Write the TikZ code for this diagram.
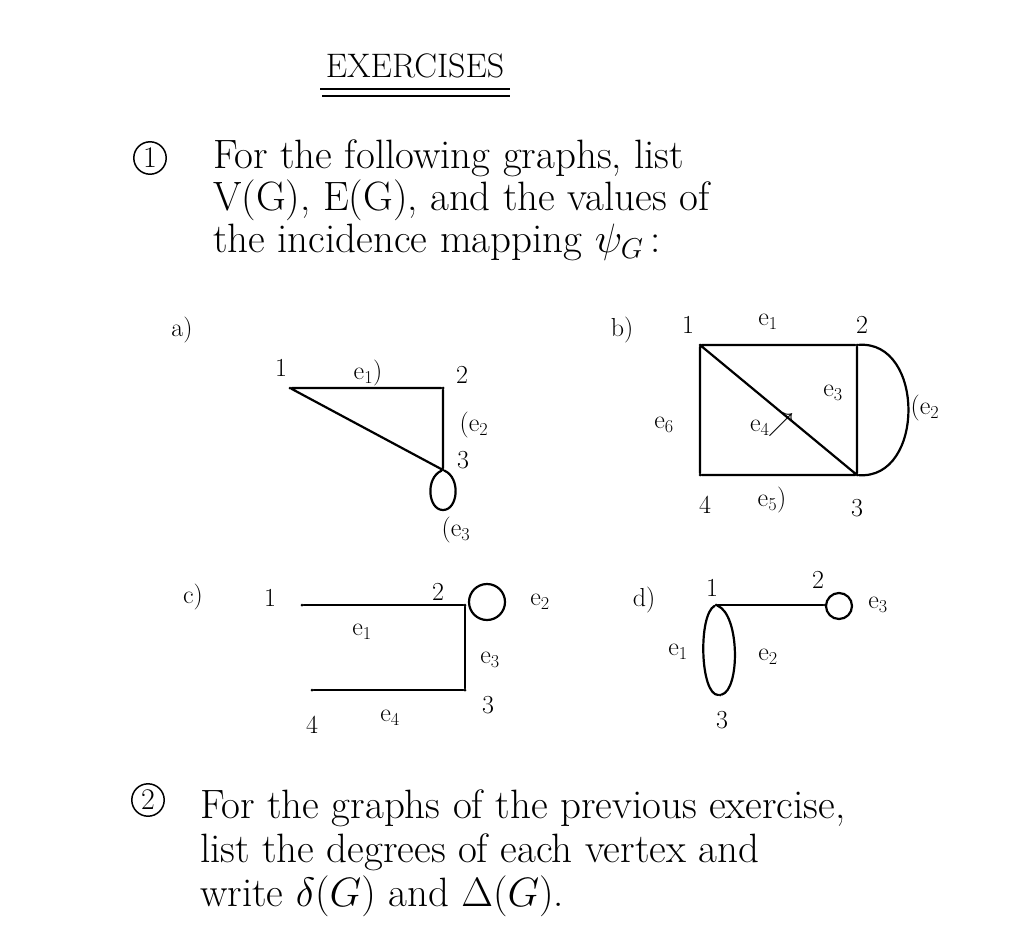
\RequirePackage{fix-cm}
\documentclass[tikz,border=0pt]{standalone}
\usepackage{fontspec}
\usepackage{tikz}
\begin{document}
\begin{tikzpicture}[x=1pt,y=-1pt,
  ln/.style={line width=2.2pt,line cap=round},
  lb/.style={font=\fontsize{26}{30}\selectfont,inner sep=0pt},
  tx/.style={font=\fontsize{41}{46}\selectfont,anchor=west,inner sep=0pt},
  vx/.style={circle,fill,inner sep=0pt,minimum size=3pt},
  cn/.style={circle,draw,line width=1.5pt,inner sep=3pt,font=\fontsize{30}{32}\selectfont}]
\useasboundingbox (0,0) rectangle (1024,950);
% title
\node[font=\fontsize{34}{38}\selectfont,inner sep=0pt] (title) at (415,66) {EXERCISES};
\draw[line width=1.5pt] (320,89) -- (510,89) (322,96) -- (510,96);
% exercise 1
\node[cn] (c1) at (150,158) {1};
\node[tx] (t1) at (213,158) {For the following graphs, list};
\node[tx] (t2) at (213,200) {V(G), E(G), and the values of};
\node[tx] (t3) at (213,242) {the incidence mapping $\psi_G$\,:};
% a
\node[lb] (la) at (182,330) {a)};
\node[vx] (a1) at (290,388) {};
\node[vx] (a2) at (443,388) {};
\node[vx] (a3) at (443,470) {};
\draw[ln] (a1) -- (a2) -- (a3) -- (a1);
\draw[ln] (a3) .. controls (425,478) and (428,510) .. (443,510) .. controls (458,510) and (461,478) .. (a3);
\node[lb] at (281,368) {1};
\node[lb] at (368,373) {e$_1$)};
\node[lb] at (462,375) {2};
\node[lb] at (474,425) {(e$_2$};
\node[lb] at (463,460) {3};
\node[lb] at (456,530) {(e$_3$};
% b
\node[lb] (lbb) at (622,330) {b)};
\node[vx] (b1) at (700,345) {};
\node[vx] (b2) at (857,345) {};
\node[vx] (b3) at (857,475) {};
\node[vx] (b4) at (700,475) {};
\draw[ln] (b1) -- (b2) -- (b3) -- (b4) -- (b1) (b1) -- (b3);
\draw[ln] (b2) .. controls (925,340) and (925,480) .. (b3);
\node[lb] at (688,325) {1};
\node[lb] at (768,322) {e$_1$};
\node[lb] at (862,325) {2};
\node[lb] at (833,393) {e$_3$};
\node[lb] at (925,408) {(e$_2$};
\node[lb] at (664,425) {e$_6$};
\node[lb] at (772,425) {e$_4\!\!\nearrow$};
\node[lb] at (705,505) {4};
\node[lb] at (772,500) {e$_5$)};
\node[lb] at (857,508) {3};
% c
\node[lb] (lc) at (193,597) {c)};
\node[vx] (c1v) at (302,605) {};
\node[vx] (c2v) at (465,605) {};
\node[vx] (c3v) at (465,690) {};
\node[vx] (c4v) at (312,690) {};
\draw[ln] (c1v) -- (c2v) -- (c3v) -- (c4v);
\draw[ln] (487,602) circle (18);
\node[lb] at (270,598) {1};
\node[lb] at (362,632) {e$_1$};
\node[lb] at (438,592) {2};
\node[lb] at (540,602) {e$_2$};
\node[lb] at (490,660) {e$_3$};
\node[lb] at (488,705) {3};
\node[lb] at (312,725) {4};
\node[lb] at (390,718) {e$_4$};
% d
\node[lb] (ld) at (644,600) {d)};
\node[vx] (d1) at (716,605) {};
\node[vx] (d2) at (825,605) {};
\node[vx] (d3) at (720,695) {};
\draw[ln] (d1) -- (d2);
\draw[ln] (839,606) circle (13);
\draw[ln] (d1) .. controls (698,615) and (700,695) .. (d3);
\draw[ln] (d1) .. controls (740,615) and (740,690) .. (d3);
\node[lb] at (712,588) {1};
\node[lb] at (818,580) {2};
\node[lb] at (878,605) {e$_3$};
\node[lb] at (678,652) {e$_1$};
\node[lb] at (768,657) {e$_2$};
\node[lb] at (722,720) {3};
% exercise 2
\node[cn] (c2) at (148,800) {2};
\node[tx] (u1) at (200,808) {For the graphs of the previous exercise,};
\node[tx] (u2) at (200,852) {list the degrees of each vertex and};
\node[tx] (u3) at (200,896) {write $\delta(G)$ and $\Delta(G)$.};
\end{tikzpicture}
\end{document}
